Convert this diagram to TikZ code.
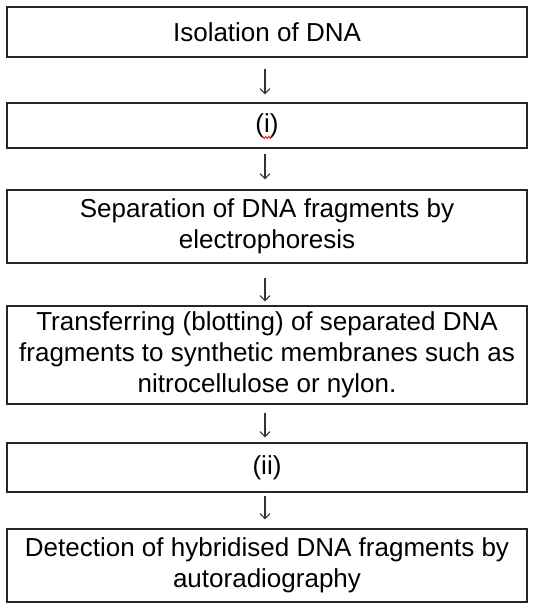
\documentclass[tikz,border=0pt]{standalone}
\usepackage{fontspec}
\setmainfont{Liberation Sans}
\usetikzlibrary{arrows.meta,decorations.pathmorphing}
\begin{document}
\begin{tikzpicture}[x=1pt,y=-1pt,
  stepbox/.style={draw=black!85,line width=1.3pt,minimum width=520pt,inner sep=0pt,
    align=center,font=\fontsize{26}{31}\selectfont},
  flow/.style={draw=black!80,line width=1.1pt,-{Straight Barb[length=5pt,width=10pt,line width=1.1pt]}}]
\useasboundingbox (0,0) rectangle (533,612);
\fill[white] (0,0) rectangle (533,612);
\node[stepbox,minimum height=50pt] (b1) at (267,32) {Isolation of DNA};
\node[stepbox,minimum height=45pt] (b2) at (267,125.5) {(i)};
\node[stepbox,minimum height=73pt] (b3) at (267,226.5) {Separation of DNA fragments by\\electrophoresis};
\node[stepbox,minimum height=98pt] (b4) at (267,355) {Transferring (blotting) of separated DNA\\fragments to synthetic membranes such as\\nitrocellulose or nylon.};
\node[stepbox,minimum height=49pt] (b5) at (267,467.5) {(ii)};
\node[stepbox,minimum height=73pt] (b6) at (267,565.5) {Detection of hybridised DNA fragments by\\autoradiography};
\draw[flow,shorten <=11pt,shorten >=8pt] ([xshift=-2pt]b1.south) -- ([xshift=-2pt]b2.north);
\draw[flow,shorten <=5pt,shorten >=10pt] ([xshift=-2pt]b2.south) -- ([xshift=-2pt]b3.north);
\draw[flow,shorten <=14pt,shorten >=4pt] ([xshift=-2pt]b3.south) -- ([xshift=-2pt]b4.north);
\draw[flow,shorten <=8pt,shorten >=5pt] ([xshift=-2pt]b4.south) -- ([xshift=-2pt]b5.north);
\draw[flow,shorten <=3pt,shorten >=9pt] ([xshift=-2pt]b5.south) -- ([xshift=-2pt]b6.north);
\draw[red,line width=0.7pt,decorate,decoration={zigzag,segment length=3pt,amplitude=1.2pt}]
  ([xshift=-5pt,yshift=-12pt]b2.center) -- ([xshift=5pt,yshift=-12pt]b2.center);
\end{tikzpicture}
\end{document}
